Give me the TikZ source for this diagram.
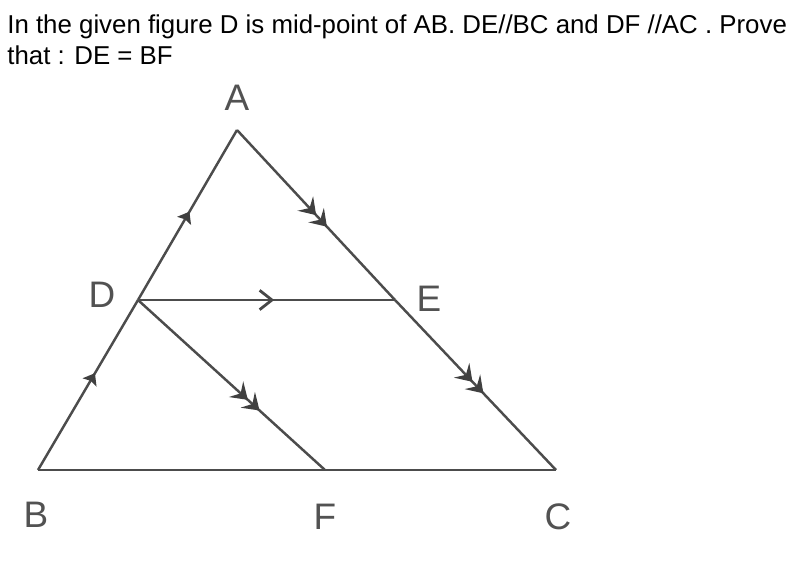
\documentclass[tikz,border=0pt]{standalone}
\usepackage{fontspec}
\setmainfont{Liberation Sans}
\usetikzlibrary{arrows.meta,decorations.markings}

\tikzset{
  side/.style={line width=1.4pt, draw=black!70},
  lbl/.style={text=black!68, font=\fontsize{21}{21}\selectfont},
  onearrow/.style={postaction={decorate, decoration={markings,
      mark=at position #1 with {\arrow[black!72]{Straight Barb[length=7pt,width=11pt,line width=1.6pt]}}}}},
  twoarrow/.style={postaction={decorate, decoration={markings,
      mark=at position #1 with {\arrow[black!75]{Stealth[length=9pt,width=12pt,inset=3.5pt] Stealth[length=9pt,width=12pt,inset=3.5pt]}}}}},
  tick/.style={postaction={decorate, decoration={markings,
      mark=at position #1 with {\arrow[black!75]{Stealth[length=6pt,width=9pt,inset=1pt]}}}}}
}

\begin{document}
\begin{tikzpicture}

\useasboundingbox (0,0) rectangle (16,11.6);

% Question text
\node[anchor=base west, align=left, inner sep=0pt, font=\fontsize{14.7}{18.2}\selectfont] (qtext) at (0.14,10.3)
  {In the given figure D is mid-point of AB. DE//BC and DF //AC . Prove\\that : DE = BF};

% Define vertices
\coordinate (A) at (4.74,9.0);
\coordinate (B) at (0.76,2.2);
\coordinate (C) at (11.12,2.2);
\coordinate (D) at (2.76,5.6);
\coordinate (E) at (7.9,5.6);
\coordinate (F) at (6.5,2.2);

% Draw triangle ABC
\draw[side, tick=0.52] (D) -- (A);
\draw[side, tick=0.57] (B) -- (D);
\draw[side, twoarrow=0.57] (A) -- (E);
\draw[side, twoarrow=0.55] (E) -- (C);
\draw[side] (B) -- (C);

% Parallel lines DE and DF
\draw[side, onearrow=0.53] (D) -- (E);
\draw[side, twoarrow=0.65] (D) -- (F);

% Vertex labels
\node[lbl] (lA) at (4.74,9.64) {A};
\node[lbl] (lB) at (0.72,1.3) {B};
\node[lbl] (lC) at (11.16,1.26) {C};
\node[lbl] (lD) at (2.04,5.7) {D};
\node[lbl] (lE) at (8.58,5.62) {E};
\node[lbl] (lF) at (6.5,1.26) {F};

\end{tikzpicture}
\end{document}
